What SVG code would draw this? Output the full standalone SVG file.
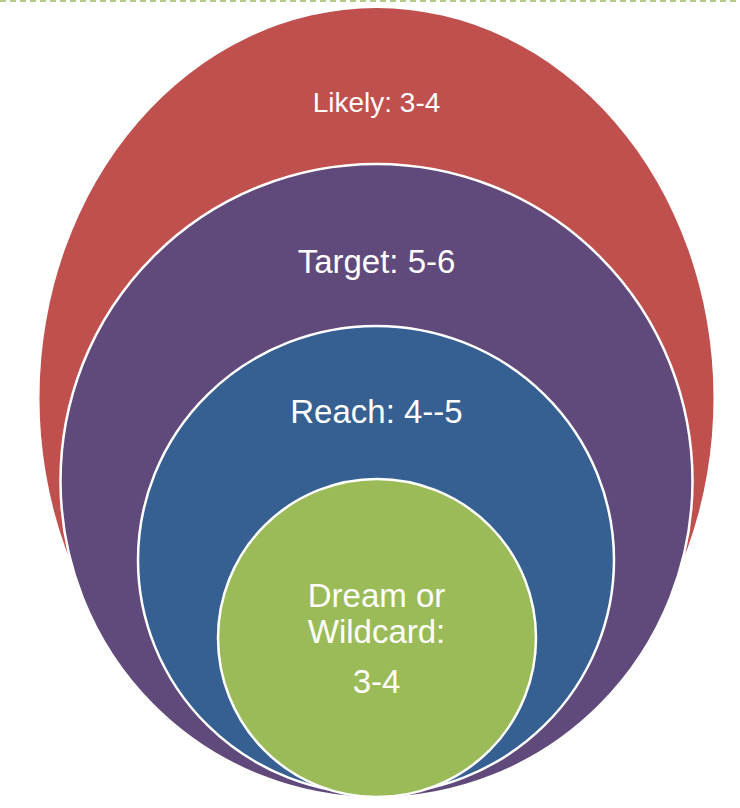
<svg xmlns="http://www.w3.org/2000/svg" width="740" height="808" viewBox="0 0 740 808">
<style>
.lbl{font-family:"Liberation Sans",Arial,sans-serif;fill:#ffffff;text-anchor:middle}
.ring{stroke:#ffffff;stroke-width:2.5}
</style>
<rect x="0" y="0" width="740" height="808" fill="#ffffff"/>
<line x1="0" y1="1" x2="740" y2="1" stroke="#9BBB59" stroke-width="1.5" stroke-dasharray="6 4"/>
<g id="likely">
<ellipse cx="376.5" cy="398" rx="337" ry="390" fill="#C0504D"/>
<text class="lbl" x="376.5" y="112" font-size="28">Likely: 3-4</text>
</g>
<g id="target">
<ellipse class="ring" cx="376.5" cy="481" rx="316" ry="317" fill="#604A7B"/>
<text class="lbl" x="376.5" y="273" font-size="33">Target: 5-6</text>
</g>
<g id="reach">
<ellipse class="ring" cx="376" cy="560" rx="238" ry="234" fill="#366092"/>
<text class="lbl" x="376.5" y="423" font-size="33">Reach: 4--5</text>
</g>
<g id="dream">
<circle class="ring" cx="377" cy="638" r="159" fill="#9BBB59"/>
<text class="lbl" x="376.5" y="607" font-size="33">Dream or</text>
<text class="lbl" x="376.5" y="643" font-size="33">Wildcard:</text>
<text class="lbl" x="376.5" y="693" font-size="33">3-4</text>
</g>
</svg>
